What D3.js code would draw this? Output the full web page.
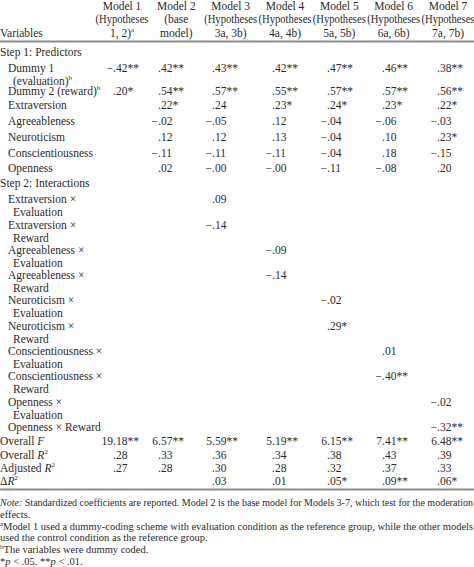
<!DOCTYPE html>
<html><head><meta charset="utf-8">
<script src="https://cdn.jsdelivr.net/npm/d3@7"></script>
<style>body{margin:0;background:#fff}text{font-family:"Liberation Serif","Times New Roman",serif;font-size:11.5px;fill:#2a2a2a}</style>
</head><body><svg id="c" width="474" height="567"></svg>
<script>
const models=["Model 1","Model 2","Model 3","Model 4","Model 5","Model 6","Model 7"];
const headerL2=["(Hypotheses","(base","(Hypotheses","(Hypotheses","(Hypotheses","(Hypotheses","(Hypotheses"];
const headerL3=["1, 2)","model)","3a, 3b)","4a, 4b)","5a, 5b)","6a, 6b)","7a, 7b)"];
const headerSup=["a","","","","","",""];
const rows=[
 {lab:[["Step 1: Predictors",0]],v:[],y:52},
 {lab:[["Dummy 1",8],["(evaluation)",13,"b"]],v:["−.42**",".42**",".43**",".42**",".47**",".46**",".38**"],y:68},
 {lab:[["Dummy 2 (reward)",8,"b"]],v:[".20*",".54**",".57**",".55**",".57**",".57**",".56**"],y:91},
 {lab:[["Extraversion",8]],v:["",".22*",".24",".23*",".24*",".23*",".22*"],y:105},
 {lab:[["Agreeableness",8]],v:["","−.02","−.05",".12","−.04","−.06","−.03"],y:121},
 {lab:[["Neuroticism",8]],v:["",".12",".12",".13","−.04",".10",".23*"],y:137},
 {lab:[["Conscientiousness",8]],v:["","−.11","−.11","−.11","−.04",".18","−.15"],y:153},
 {lab:[["Openness",8]],v:["",".02","−.00","−.00","−.11","−.08",".20"],y:168},
 {lab:[["Step 2: Interactions",0]],v:[],y:183},
 {lab:[["Extraversion ×",8],["Evaluation",13]],v:["","",".09"],y:199},
 {lab:[["Extraversion ×",8],["Reward",13]],v:["","","−.14"],y:225},
 {lab:[["Agreeableness ×",8],["Evaluation",13]],v:["","","","−.09"],y:250},
 {lab:[["Agreeableness ×",8],["Reward",13]],v:["","","","−.14"],y:275},
 {lab:[["Neuroticism ×",8],["Evaluation",13]],v:["","","","","−.02"],y:300},
 {lab:[["Neuroticism ×",8],["Reward",13]],v:["","","","",".29*"],y:326},
 {lab:[["Conscientiousness ×",8],["Evaluation",13]],v:["","","","","",".01"],y:351},
 {lab:[["Conscientiousness ×",8],["Reward",13]],v:["","","","","","−.40**"],y:376},
 {lab:[["Openness ×",8],["Evaluation",13]],v:["","","","","","","−.02"],y:402},
 {lab:[["Openness × Reward",8]],v:["","","","","","","−.32**"],y:427},
 {lab:[["Overall ",0,"","F"]],v:["19.18**","6.57**","5.59**","5.19**","6.15**","7.41**","6.48**"],y:441},
 {lab:[["Overall ",0,"2","R"]],v:[".28",".33",".36",".34",".38",".43",".39"],y:455},
 {lab:[["Adjusted ",0,"2","R"]],v:[".27",".28",".30",".28",".32",".37",".33"],y:468},
 {lab:[["Δ",0,"2","R"]],v:["","",".03",".01",".05*",".09**",".06*"],y:481}
];
const notes=[
 [["Note:",1],[" Standardized coefficients are reported. Model 2 is the base model for Models 3-7, which test for the moderation",0]],
 [["effects.",0]],
 [["a",2],["Model 1 used a dummy-coding scheme with evaluation condition as the reference group, while the other models",0]],
 [["used the control condition as the reference group.",0]],
 [["b",2],["The variables were dummy coded.",0]],
 [["*",0],["p",1],[" < .05. **",0],["p",1],[" < .01.",0]]
];
const noteY=[502,514,526,537,549,561];

const svg=d3.select("#c");
const x=d3.scalePoint().domain(models).range([122,448]);
const dec=d3.scaleOrdinal().domain(models).range([113,158,212,272,327,382,437]);
const hdr=[models,headerL2,headerL3];
[10,23,37].forEach((yy,i)=>{
  models.forEach((m,j)=>{
    const t=svg.append("text").attr("x",x(m)).attr("y",yy).attr("text-anchor","middle").text(hdr[i][j]);
    if(i==1&&hdr[i][j].length>6) t.attr("textLength",53).attr("lengthAdjust","spacingAndGlyphs");
    if(i==2&&headerSup[j]) t.append("tspan").attr("font-size","7px").attr("dy",-5).text(headerSup[j]);
  });
});
svg.append("text").attr("x",0).attr("y",37).text("Variables");
svg.append("rect").attr("x",0).attr("y",40.5).attr("width",474).attr("height",2).attr("fill","#8a8a8a");
svg.append("rect").attr("x",0).attr("y",488.5).attr("width",474).attr("height",2).attr("fill","#8a8a8a");

rows.forEach(r=>{
  r.lab.forEach((l,i)=>{
    const t=svg.append("text").attr("x",l[1]).attr("y",r.y+4+i*12.5);
    t.append("tspan").text(l[0]);
    if(l[3]){t.append("tspan").attr("font-style","italic").text(l[3]);}
    if(l[2]) t.append("tspan").attr("font-size","7px").attr("dy",-5).text(l[2]);
  });
  r.v.forEach((v,j)=>{
    if(!v) return;
    const k=v.indexOf(".");
    const pre=v.slice(0,k), post=v.slice(k);
    const cx=dec(models[j]);
    if(pre) svg.append("text").attr("x",cx).attr("y",r.y+4).attr("text-anchor","end").text(pre);
    svg.append("text").attr("x",cx).attr("y",r.y+4).text(post);
  });
});
notes.forEach((ln,i)=>{
  const t=svg.append("text").attr("x",0).attr("y",noteY[i]+4).style("font-size","10.5px");
  if(i==0||i==2) t.attr("textLength",473).attr("lengthAdjust","spacingAndGlyphs");
  ln.forEach(p=>{
    const s=t.append("tspan").text(p[0]);
    if(p[1]==1) s.attr("font-style","italic");
    if(p[1]==2) s.attr("font-size","7px").attr("baseline-shift","super");
  });
});
</script></body></html>
